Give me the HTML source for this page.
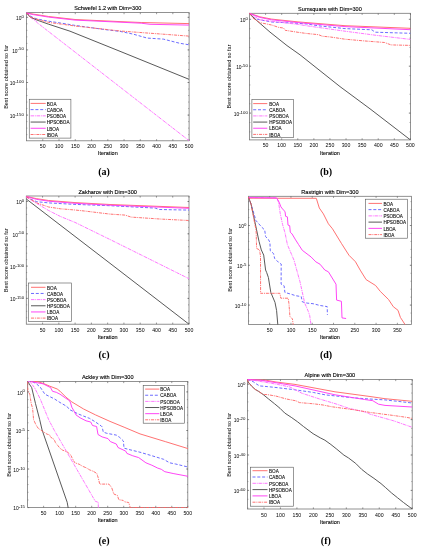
<!DOCTYPE html><html><head><meta charset="utf-8"><title>Convergence curves</title><style>html,body{margin:0;padding:0;background:#fff;}svg{display:block;filter:blur(0.35px);}</style></head><body>
<svg width="423" height="550" viewBox="0 0 423 550">
<rect width="423" height="550" fill="#fff"/>
<clipPath id="ca"><rect x="26" y="12.1" width="163.6" height="129.2"/></clipPath>
<rect x="26.5" y="12.6" width="162.6" height="128.2" fill="#fff" stroke="#777" stroke-width="0.8"/>
<line x1="42.76" y1="140.8" x2="42.76" y2="139.2" stroke="#555" stroke-width="0.6"/>
<line x1="42.76" y1="12.6" x2="42.76" y2="14.2" stroke="#555" stroke-width="0.6"/>
<text x="42.76" y="148.1" font-size="5.2" text-anchor="middle" fill="#000" font-family='"Liberation Sans", sans-serif' font-weight="normal" >50</text>
<line x1="59.02" y1="140.8" x2="59.02" y2="139.2" stroke="#555" stroke-width="0.6"/>
<line x1="59.02" y1="12.6" x2="59.02" y2="14.2" stroke="#555" stroke-width="0.6"/>
<text x="59.02" y="148.1" font-size="5.2" text-anchor="middle" fill="#000" font-family='"Liberation Sans", sans-serif' font-weight="normal" >100</text>
<line x1="75.28" y1="140.8" x2="75.28" y2="139.2" stroke="#555" stroke-width="0.6"/>
<line x1="75.28" y1="12.6" x2="75.28" y2="14.2" stroke="#555" stroke-width="0.6"/>
<text x="75.28" y="148.1" font-size="5.2" text-anchor="middle" fill="#000" font-family='"Liberation Sans", sans-serif' font-weight="normal" >150</text>
<line x1="91.54" y1="140.8" x2="91.54" y2="139.2" stroke="#555" stroke-width="0.6"/>
<line x1="91.54" y1="12.6" x2="91.54" y2="14.2" stroke="#555" stroke-width="0.6"/>
<text x="91.54" y="148.1" font-size="5.2" text-anchor="middle" fill="#000" font-family='"Liberation Sans", sans-serif' font-weight="normal" >200</text>
<line x1="107.8" y1="140.8" x2="107.8" y2="139.2" stroke="#555" stroke-width="0.6"/>
<line x1="107.8" y1="12.6" x2="107.8" y2="14.2" stroke="#555" stroke-width="0.6"/>
<text x="107.8" y="148.1" font-size="5.2" text-anchor="middle" fill="#000" font-family='"Liberation Sans", sans-serif' font-weight="normal" >250</text>
<line x1="124.06" y1="140.8" x2="124.06" y2="139.2" stroke="#555" stroke-width="0.6"/>
<line x1="124.06" y1="12.6" x2="124.06" y2="14.2" stroke="#555" stroke-width="0.6"/>
<text x="124.06" y="148.1" font-size="5.2" text-anchor="middle" fill="#000" font-family='"Liberation Sans", sans-serif' font-weight="normal" >300</text>
<line x1="140.32" y1="140.8" x2="140.32" y2="139.2" stroke="#555" stroke-width="0.6"/>
<line x1="140.32" y1="12.6" x2="140.32" y2="14.2" stroke="#555" stroke-width="0.6"/>
<text x="140.32" y="148.1" font-size="5.2" text-anchor="middle" fill="#000" font-family='"Liberation Sans", sans-serif' font-weight="normal" >350</text>
<line x1="156.58" y1="140.8" x2="156.58" y2="139.2" stroke="#555" stroke-width="0.6"/>
<line x1="156.58" y1="12.6" x2="156.58" y2="14.2" stroke="#555" stroke-width="0.6"/>
<text x="156.58" y="148.1" font-size="5.2" text-anchor="middle" fill="#000" font-family='"Liberation Sans", sans-serif' font-weight="normal" >400</text>
<line x1="172.84" y1="140.8" x2="172.84" y2="139.2" stroke="#555" stroke-width="0.6"/>
<line x1="172.84" y1="12.6" x2="172.84" y2="14.2" stroke="#555" stroke-width="0.6"/>
<text x="172.84" y="148.1" font-size="5.2" text-anchor="middle" fill="#000" font-family='"Liberation Sans", sans-serif' font-weight="normal" >450</text>
<line x1="189.1" y1="140.8" x2="189.1" y2="139.2" stroke="#555" stroke-width="0.6"/>
<line x1="189.1" y1="12.6" x2="189.1" y2="14.2" stroke="#555" stroke-width="0.6"/>
<text x="189.1" y="148.1" font-size="5.2" text-anchor="middle" fill="#000" font-family='"Liberation Sans", sans-serif' font-weight="normal" >500</text>
<line x1="26.5" y1="17.3" x2="28.1" y2="17.3" stroke="#555" stroke-width="0.6"/>
<line x1="189.1" y1="17.3" x2="187.5" y2="17.3" stroke="#555" stroke-width="0.6"/>
<text x="23.8" y="20" font-size="4.9" text-anchor="end" fill="#000" font-family='"Liberation Sans", sans-serif'>10<tspan font-size="4.3" dy="-2.2">0</tspan></text>
<line x1="26.5" y1="49.9" x2="28.1" y2="49.9" stroke="#555" stroke-width="0.6"/>
<line x1="189.1" y1="49.9" x2="187.5" y2="49.9" stroke="#555" stroke-width="0.6"/>
<text x="23.8" y="52.6" font-size="4.9" text-anchor="end" fill="#000" font-family='"Liberation Sans", sans-serif'>10<tspan font-size="4.3" dy="-2.2">-50</tspan></text>
<line x1="26.5" y1="82.5" x2="28.1" y2="82.5" stroke="#555" stroke-width="0.6"/>
<line x1="189.1" y1="82.5" x2="187.5" y2="82.5" stroke="#555" stroke-width="0.6"/>
<text x="23.8" y="85.2" font-size="4.9" text-anchor="end" fill="#000" font-family='"Liberation Sans", sans-serif'>10<tspan font-size="4.3" dy="-2.2">-100</tspan></text>
<line x1="26.5" y1="115.1" x2="28.1" y2="115.1" stroke="#555" stroke-width="0.6"/>
<line x1="189.1" y1="115.1" x2="187.5" y2="115.1" stroke="#555" stroke-width="0.6"/>
<text x="23.8" y="117.8" font-size="4.9" text-anchor="end" fill="#000" font-family='"Liberation Sans", sans-serif'>10<tspan font-size="4.3" dy="-2.2">-150</tspan></text>
<line x1="26.5" y1="17.3" x2="27.4" y2="17.3" stroke="#555" stroke-width="0.5"/>
<line x1="189.1" y1="17.3" x2="188.2" y2="17.3" stroke="#555" stroke-width="0.5"/>
<line x1="26.5" y1="23.82" x2="27.4" y2="23.82" stroke="#555" stroke-width="0.5"/>
<line x1="189.1" y1="23.82" x2="188.2" y2="23.82" stroke="#555" stroke-width="0.5"/>
<line x1="26.5" y1="30.34" x2="27.4" y2="30.34" stroke="#555" stroke-width="0.5"/>
<line x1="189.1" y1="30.34" x2="188.2" y2="30.34" stroke="#555" stroke-width="0.5"/>
<line x1="26.5" y1="36.86" x2="27.4" y2="36.86" stroke="#555" stroke-width="0.5"/>
<line x1="189.1" y1="36.86" x2="188.2" y2="36.86" stroke="#555" stroke-width="0.5"/>
<line x1="26.5" y1="43.38" x2="27.4" y2="43.38" stroke="#555" stroke-width="0.5"/>
<line x1="189.1" y1="43.38" x2="188.2" y2="43.38" stroke="#555" stroke-width="0.5"/>
<line x1="26.5" y1="49.9" x2="27.4" y2="49.9" stroke="#555" stroke-width="0.5"/>
<line x1="189.1" y1="49.9" x2="188.2" y2="49.9" stroke="#555" stroke-width="0.5"/>
<line x1="26.5" y1="56.42" x2="27.4" y2="56.42" stroke="#555" stroke-width="0.5"/>
<line x1="189.1" y1="56.42" x2="188.2" y2="56.42" stroke="#555" stroke-width="0.5"/>
<line x1="26.5" y1="62.94" x2="27.4" y2="62.94" stroke="#555" stroke-width="0.5"/>
<line x1="189.1" y1="62.94" x2="188.2" y2="62.94" stroke="#555" stroke-width="0.5"/>
<line x1="26.5" y1="69.46" x2="27.4" y2="69.46" stroke="#555" stroke-width="0.5"/>
<line x1="189.1" y1="69.46" x2="188.2" y2="69.46" stroke="#555" stroke-width="0.5"/>
<line x1="26.5" y1="75.98" x2="27.4" y2="75.98" stroke="#555" stroke-width="0.5"/>
<line x1="189.1" y1="75.98" x2="188.2" y2="75.98" stroke="#555" stroke-width="0.5"/>
<line x1="26.5" y1="82.5" x2="27.4" y2="82.5" stroke="#555" stroke-width="0.5"/>
<line x1="189.1" y1="82.5" x2="188.2" y2="82.5" stroke="#555" stroke-width="0.5"/>
<line x1="26.5" y1="89.02" x2="27.4" y2="89.02" stroke="#555" stroke-width="0.5"/>
<line x1="189.1" y1="89.02" x2="188.2" y2="89.02" stroke="#555" stroke-width="0.5"/>
<line x1="26.5" y1="95.54" x2="27.4" y2="95.54" stroke="#555" stroke-width="0.5"/>
<line x1="189.1" y1="95.54" x2="188.2" y2="95.54" stroke="#555" stroke-width="0.5"/>
<line x1="26.5" y1="102.06" x2="27.4" y2="102.06" stroke="#555" stroke-width="0.5"/>
<line x1="189.1" y1="102.06" x2="188.2" y2="102.06" stroke="#555" stroke-width="0.5"/>
<line x1="26.5" y1="108.58" x2="27.4" y2="108.58" stroke="#555" stroke-width="0.5"/>
<line x1="189.1" y1="108.58" x2="188.2" y2="108.58" stroke="#555" stroke-width="0.5"/>
<line x1="26.5" y1="115.1" x2="27.4" y2="115.1" stroke="#555" stroke-width="0.5"/>
<line x1="189.1" y1="115.1" x2="188.2" y2="115.1" stroke="#555" stroke-width="0.5"/>
<line x1="26.5" y1="121.62" x2="27.4" y2="121.62" stroke="#555" stroke-width="0.5"/>
<line x1="189.1" y1="121.62" x2="188.2" y2="121.62" stroke="#555" stroke-width="0.5"/>
<line x1="26.5" y1="128.14" x2="27.4" y2="128.14" stroke="#555" stroke-width="0.5"/>
<line x1="189.1" y1="128.14" x2="188.2" y2="128.14" stroke="#555" stroke-width="0.5"/>
<line x1="26.5" y1="134.66" x2="27.4" y2="134.66" stroke="#555" stroke-width="0.5"/>
<line x1="189.1" y1="134.66" x2="188.2" y2="134.66" stroke="#555" stroke-width="0.5"/>
<g clip-path="url(#ca)">
<polyline points="26.5,13 33.3,14.1 48.6,16.5 75,19.5 120,21.6 141.2,22.5 189,23.6" fill="none" stroke="#ff6a6a" stroke-width="0.95" stroke-linejoin="round"/>
<polyline points="26.5,13 32.1,17.1 36.8,18.9 48.6,21.2 60.5,23 75,25.4 105,29.6 120,31.4 133.1,34.1 147.2,38.1 163.3,39.1 179.4,43.2 189,44.8" fill="none" stroke="#6464ff" stroke-width="0.95" stroke-dasharray="3,1.8" stroke-linejoin="round"/>
<polyline points="26.5,13 30.9,17.7 36.2,21.2 36.8,22.4 189,140.6" fill="none" stroke="#ff70ff" stroke-width="0.95" stroke-dasharray="3.4,0.8,1,0.8" stroke-linejoin="round"/>
<polyline points="26.5,13 30.3,17.1 36.8,20 48.6,24.2 70,31.2 120,51.3 189,79.3" fill="none" stroke="#505050" stroke-width="0.95" stroke-linejoin="round"/>
<polyline points="26.5,13 33.3,14.6 48.6,17.1 75,20.1 120,22.2 141.2,23.2 150,24.3 189,25.1" fill="none" stroke="#ff3cf5" stroke-width="0.95" stroke-linejoin="round"/>
<polyline points="26.5,13 30.3,17.1 35.6,18.9 48.6,22.4 75,26 105,29.3 120,31 189,36.1" fill="none" stroke="#ff6262" stroke-width="0.9" stroke-dasharray="3,0.9,1,0.9" stroke-linejoin="round"/>
</g>
<text x="107.8" y="10.3" font-size="5.55" text-anchor="middle" fill="#000" font-family='"Liberation Sans", sans-serif' font-weight="normal" stroke="#000" stroke-width="0.12">Schwefel 1.2 with Dim=300</text>
<text x="107.8" y="155.3" font-size="5.5" text-anchor="middle" fill="#000" font-family='"Liberation Sans", sans-serif' font-weight="normal" stroke="#000" stroke-width="0.08">Iteration</text>
<text transform="translate(7.7,76.9) rotate(-90)" font-size="5.5" text-anchor="middle" fill="#000" font-family='"Liberation Sans", sans-serif'>Best score obtained so far</text>
<rect x="29.25" y="99.25" width="41.65" height="38.85" fill="#fff" stroke="#555" stroke-width="0.6"/>
<polyline points="30.6,103.4 45.7,103.4" fill="none" stroke="#ff6a6a" stroke-width="0.95" stroke-linejoin="round"/>
<text x="46.75" y="105.65" font-size="4.6" text-anchor="start" fill="#000" font-family='"Liberation Sans", sans-serif' font-weight="normal" stroke="#000" stroke-width="0.08">BOA</text>
<polyline points="30.6,109.62 45.7,109.62" fill="none" stroke="#6464ff" stroke-width="0.95" stroke-dasharray="3,1.8" stroke-linejoin="round"/>
<text x="46.75" y="111.87" font-size="4.6" text-anchor="start" fill="#000" font-family='"Liberation Sans", sans-serif' font-weight="normal" stroke="#000" stroke-width="0.08">CABOA</text>
<polyline points="30.6,115.84 45.7,115.84" fill="none" stroke="#ff70ff" stroke-width="0.95" stroke-dasharray="3.4,0.8,1,0.8" stroke-linejoin="round"/>
<text x="46.75" y="118.09" font-size="4.6" text-anchor="start" fill="#000" font-family='"Liberation Sans", sans-serif' font-weight="normal" stroke="#000" stroke-width="0.08">PSOBOA</text>
<polyline points="30.6,122.06 45.7,122.06" fill="none" stroke="#505050" stroke-width="0.95" stroke-linejoin="round"/>
<text x="46.75" y="124.31" font-size="4.6" text-anchor="start" fill="#000" font-family='"Liberation Sans", sans-serif' font-weight="normal" stroke="#000" stroke-width="0.08">HPSOBOA</text>
<polyline points="30.6,128.28 45.7,128.28" fill="none" stroke="#ff3cf5" stroke-width="0.95" stroke-linejoin="round"/>
<text x="46.75" y="130.53" font-size="4.6" text-anchor="start" fill="#000" font-family='"Liberation Sans", sans-serif' font-weight="normal" stroke="#000" stroke-width="0.08">LBOA</text>
<polyline points="30.6,134.5 45.7,134.5" fill="none" stroke="#ff6262" stroke-width="0.9" stroke-dasharray="3,0.9,1,0.9" stroke-linejoin="round"/>
<text x="46.75" y="136.75" font-size="4.6" text-anchor="start" fill="#000" font-family='"Liberation Sans", sans-serif' font-weight="normal" stroke="#000" stroke-width="0.08">IBOA</text>
<text x="104" y="174.7" font-size="10" text-anchor="middle" fill="#000" font-family='"Liberation Serif", serif' font-weight="bold" >(a)</text>
<clipPath id="cb"><rect x="249" y="12.8" width="161.9" height="127.6"/></clipPath>
<rect x="249.5" y="13.3" width="160.9" height="126.6" fill="#fff" stroke="#777" stroke-width="0.8"/>
<line x1="265.59" y1="139.9" x2="265.59" y2="138.3" stroke="#555" stroke-width="0.6"/>
<line x1="265.59" y1="13.3" x2="265.59" y2="14.9" stroke="#555" stroke-width="0.6"/>
<text x="265.59" y="147.4" font-size="5.2" text-anchor="middle" fill="#000" font-family='"Liberation Sans", sans-serif' font-weight="normal" >50</text>
<line x1="281.68" y1="139.9" x2="281.68" y2="138.3" stroke="#555" stroke-width="0.6"/>
<line x1="281.68" y1="13.3" x2="281.68" y2="14.9" stroke="#555" stroke-width="0.6"/>
<text x="281.68" y="147.4" font-size="5.2" text-anchor="middle" fill="#000" font-family='"Liberation Sans", sans-serif' font-weight="normal" >100</text>
<line x1="297.77" y1="139.9" x2="297.77" y2="138.3" stroke="#555" stroke-width="0.6"/>
<line x1="297.77" y1="13.3" x2="297.77" y2="14.9" stroke="#555" stroke-width="0.6"/>
<text x="297.77" y="147.4" font-size="5.2" text-anchor="middle" fill="#000" font-family='"Liberation Sans", sans-serif' font-weight="normal" >150</text>
<line x1="313.86" y1="139.9" x2="313.86" y2="138.3" stroke="#555" stroke-width="0.6"/>
<line x1="313.86" y1="13.3" x2="313.86" y2="14.9" stroke="#555" stroke-width="0.6"/>
<text x="313.86" y="147.4" font-size="5.2" text-anchor="middle" fill="#000" font-family='"Liberation Sans", sans-serif' font-weight="normal" >200</text>
<line x1="329.95" y1="139.9" x2="329.95" y2="138.3" stroke="#555" stroke-width="0.6"/>
<line x1="329.95" y1="13.3" x2="329.95" y2="14.9" stroke="#555" stroke-width="0.6"/>
<text x="329.95" y="147.4" font-size="5.2" text-anchor="middle" fill="#000" font-family='"Liberation Sans", sans-serif' font-weight="normal" >250</text>
<line x1="346.04" y1="139.9" x2="346.04" y2="138.3" stroke="#555" stroke-width="0.6"/>
<line x1="346.04" y1="13.3" x2="346.04" y2="14.9" stroke="#555" stroke-width="0.6"/>
<text x="346.04" y="147.4" font-size="5.2" text-anchor="middle" fill="#000" font-family='"Liberation Sans", sans-serif' font-weight="normal" >300</text>
<line x1="362.13" y1="139.9" x2="362.13" y2="138.3" stroke="#555" stroke-width="0.6"/>
<line x1="362.13" y1="13.3" x2="362.13" y2="14.9" stroke="#555" stroke-width="0.6"/>
<text x="362.13" y="147.4" font-size="5.2" text-anchor="middle" fill="#000" font-family='"Liberation Sans", sans-serif' font-weight="normal" >350</text>
<line x1="378.22" y1="139.9" x2="378.22" y2="138.3" stroke="#555" stroke-width="0.6"/>
<line x1="378.22" y1="13.3" x2="378.22" y2="14.9" stroke="#555" stroke-width="0.6"/>
<text x="378.22" y="147.4" font-size="5.2" text-anchor="middle" fill="#000" font-family='"Liberation Sans", sans-serif' font-weight="normal" >400</text>
<line x1="394.31" y1="139.9" x2="394.31" y2="138.3" stroke="#555" stroke-width="0.6"/>
<line x1="394.31" y1="13.3" x2="394.31" y2="14.9" stroke="#555" stroke-width="0.6"/>
<text x="394.31" y="147.4" font-size="5.2" text-anchor="middle" fill="#000" font-family='"Liberation Sans", sans-serif' font-weight="normal" >450</text>
<line x1="410.4" y1="139.9" x2="410.4" y2="138.3" stroke="#555" stroke-width="0.6"/>
<line x1="410.4" y1="13.3" x2="410.4" y2="14.9" stroke="#555" stroke-width="0.6"/>
<text x="410.4" y="147.4" font-size="5.2" text-anchor="middle" fill="#000" font-family='"Liberation Sans", sans-serif' font-weight="normal" >500</text>
<line x1="249.5" y1="19.3" x2="251.1" y2="19.3" stroke="#555" stroke-width="0.6"/>
<line x1="410.4" y1="19.3" x2="408.8" y2="19.3" stroke="#555" stroke-width="0.6"/>
<text x="247.8" y="22" font-size="4.9" text-anchor="end" fill="#000" font-family='"Liberation Sans", sans-serif'>10<tspan font-size="4.3" dy="-2.2">0</tspan></text>
<line x1="249.5" y1="66.2" x2="251.1" y2="66.2" stroke="#555" stroke-width="0.6"/>
<line x1="410.4" y1="66.2" x2="408.8" y2="66.2" stroke="#555" stroke-width="0.6"/>
<text x="247.8" y="68.9" font-size="4.9" text-anchor="end" fill="#000" font-family='"Liberation Sans", sans-serif'>10<tspan font-size="4.3" dy="-2.2">-50</tspan></text>
<line x1="249.5" y1="113.1" x2="251.1" y2="113.1" stroke="#555" stroke-width="0.6"/>
<line x1="410.4" y1="113.1" x2="408.8" y2="113.1" stroke="#555" stroke-width="0.6"/>
<text x="247.8" y="115.8" font-size="4.9" text-anchor="end" fill="#000" font-family='"Liberation Sans", sans-serif'>10<tspan font-size="4.3" dy="-2.2">-100</tspan></text>
<line x1="249.5" y1="19.3" x2="250.4" y2="19.3" stroke="#555" stroke-width="0.5"/>
<line x1="410.4" y1="19.3" x2="409.5" y2="19.3" stroke="#555" stroke-width="0.5"/>
<line x1="249.5" y1="28.68" x2="250.4" y2="28.68" stroke="#555" stroke-width="0.5"/>
<line x1="410.4" y1="28.68" x2="409.5" y2="28.68" stroke="#555" stroke-width="0.5"/>
<line x1="249.5" y1="38.06" x2="250.4" y2="38.06" stroke="#555" stroke-width="0.5"/>
<line x1="410.4" y1="38.06" x2="409.5" y2="38.06" stroke="#555" stroke-width="0.5"/>
<line x1="249.5" y1="47.44" x2="250.4" y2="47.44" stroke="#555" stroke-width="0.5"/>
<line x1="410.4" y1="47.44" x2="409.5" y2="47.44" stroke="#555" stroke-width="0.5"/>
<line x1="249.5" y1="56.82" x2="250.4" y2="56.82" stroke="#555" stroke-width="0.5"/>
<line x1="410.4" y1="56.82" x2="409.5" y2="56.82" stroke="#555" stroke-width="0.5"/>
<line x1="249.5" y1="66.2" x2="250.4" y2="66.2" stroke="#555" stroke-width="0.5"/>
<line x1="410.4" y1="66.2" x2="409.5" y2="66.2" stroke="#555" stroke-width="0.5"/>
<line x1="249.5" y1="75.58" x2="250.4" y2="75.58" stroke="#555" stroke-width="0.5"/>
<line x1="410.4" y1="75.58" x2="409.5" y2="75.58" stroke="#555" stroke-width="0.5"/>
<line x1="249.5" y1="84.96" x2="250.4" y2="84.96" stroke="#555" stroke-width="0.5"/>
<line x1="410.4" y1="84.96" x2="409.5" y2="84.96" stroke="#555" stroke-width="0.5"/>
<line x1="249.5" y1="94.34" x2="250.4" y2="94.34" stroke="#555" stroke-width="0.5"/>
<line x1="410.4" y1="94.34" x2="409.5" y2="94.34" stroke="#555" stroke-width="0.5"/>
<line x1="249.5" y1="103.72" x2="250.4" y2="103.72" stroke="#555" stroke-width="0.5"/>
<line x1="410.4" y1="103.72" x2="409.5" y2="103.72" stroke="#555" stroke-width="0.5"/>
<line x1="249.5" y1="113.1" x2="250.4" y2="113.1" stroke="#555" stroke-width="0.5"/>
<line x1="410.4" y1="113.1" x2="409.5" y2="113.1" stroke="#555" stroke-width="0.5"/>
<line x1="249.5" y1="122.48" x2="250.4" y2="122.48" stroke="#555" stroke-width="0.5"/>
<line x1="410.4" y1="122.48" x2="409.5" y2="122.48" stroke="#555" stroke-width="0.5"/>
<line x1="249.5" y1="131.86" x2="250.4" y2="131.86" stroke="#555" stroke-width="0.5"/>
<line x1="410.4" y1="131.86" x2="409.5" y2="131.86" stroke="#555" stroke-width="0.5"/>
<g clip-path="url(#cb)">
<polyline points="249.5,13.3 259.8,16.8 271.6,19.1 298,21.9 345,25.7 410.4,28.3" fill="none" stroke="#ff6a6a" stroke-width="0.95" stroke-linejoin="round"/>
<polyline points="249.5,13.3 253.9,17.9 257.5,19.3 265.7,20.9 271.6,22 298,23.3 306.8,24 318.6,25.8 345,28.6 371.9,29.8 375.1,32.2 410.4,33.3" fill="none" stroke="#6464ff" stroke-width="0.95" stroke-dasharray="3,1.8" stroke-linejoin="round"/>
<polyline points="249.5,13.3 260,19.8 298,24.4 306.8,25.8 345,31.2 376.7,35.4 410.4,39.4" fill="none" stroke="#ff70ff" stroke-width="0.95" stroke-dasharray="3.4,0.8,1,0.8" stroke-linejoin="round"/>
<polyline points="249.5,13.3 255.1,19.1 270,32.1 287,45.6 300,54.8 340,86.6 370,108.8 410.4,139.9" fill="none" stroke="#505050" stroke-width="0.95" stroke-linejoin="round"/>
<polyline points="249.5,13.3 259.8,17.4 271.6,19.8 298,22.6 345,26.6 410.4,29.7" fill="none" stroke="#ff3cf5" stroke-width="0.95" stroke-linejoin="round"/>
<polyline points="249.5,13.3 252.7,17.9 259.8,22.6 271.6,25 278.7,27.4 283.5,28 285.2,30.3 298,32.3 306.8,33.5 318.6,34.7 322.2,36.2 330.5,37 345,39.2 364,40.9 384.6,42.5 391,44.9 410.4,45.4" fill="none" stroke="#ff6262" stroke-width="0.9" stroke-dasharray="3,0.9,1,0.9" stroke-linejoin="round"/>
</g>
<text x="329.95" y="11.4" font-size="5.55" text-anchor="middle" fill="#000" font-family='"Liberation Sans", sans-serif' font-weight="normal" stroke="#000" stroke-width="0.12">Sumsquare with Dim=300</text>
<text x="329.95" y="154.7" font-size="5.5" text-anchor="middle" fill="#000" font-family='"Liberation Sans", sans-serif' font-weight="normal" stroke="#000" stroke-width="0.08">Iteration</text>
<text transform="translate(231.3,76.45) rotate(-90)" font-size="5.5" text-anchor="middle" fill="#000" font-family='"Liberation Sans", sans-serif'>Best score obtained so far</text>
<rect x="251.9" y="99.6" width="41.4" height="38.1" fill="#fff" stroke="#555" stroke-width="0.6"/>
<polyline points="253.2,103.6 267.3,103.6" fill="none" stroke="#ff6a6a" stroke-width="0.95" stroke-linejoin="round"/>
<text x="269.3" y="105.85" font-size="4.6" text-anchor="start" fill="#000" font-family='"Liberation Sans", sans-serif' font-weight="normal" stroke="#000" stroke-width="0.08">BOA</text>
<polyline points="253.2,109.76 267.3,109.76" fill="none" stroke="#6464ff" stroke-width="0.95" stroke-dasharray="3,1.8" stroke-linejoin="round"/>
<text x="269.3" y="112.01" font-size="4.6" text-anchor="start" fill="#000" font-family='"Liberation Sans", sans-serif' font-weight="normal" stroke="#000" stroke-width="0.08">CABOA</text>
<polyline points="253.2,115.92 267.3,115.92" fill="none" stroke="#ff70ff" stroke-width="0.95" stroke-dasharray="3.4,0.8,1,0.8" stroke-linejoin="round"/>
<text x="269.3" y="118.17" font-size="4.6" text-anchor="start" fill="#000" font-family='"Liberation Sans", sans-serif' font-weight="normal" stroke="#000" stroke-width="0.08">PSOBOA</text>
<polyline points="253.2,122.08 267.3,122.08" fill="none" stroke="#505050" stroke-width="0.95" stroke-linejoin="round"/>
<text x="269.3" y="124.33" font-size="4.6" text-anchor="start" fill="#000" font-family='"Liberation Sans", sans-serif' font-weight="normal" stroke="#000" stroke-width="0.08">HPSOBOA</text>
<polyline points="253.2,128.24 267.3,128.24" fill="none" stroke="#ff3cf5" stroke-width="0.95" stroke-linejoin="round"/>
<text x="269.3" y="130.49" font-size="4.6" text-anchor="start" fill="#000" font-family='"Liberation Sans", sans-serif' font-weight="normal" stroke="#000" stroke-width="0.08">LBOA</text>
<polyline points="253.2,134.4 267.3,134.4" fill="none" stroke="#ff6262" stroke-width="0.9" stroke-dasharray="3,0.9,1,0.9" stroke-linejoin="round"/>
<text x="269.3" y="136.65" font-size="4.6" text-anchor="start" fill="#000" font-family='"Liberation Sans", sans-serif' font-weight="normal" stroke="#000" stroke-width="0.08">IBOA</text>
<text x="326" y="174.6" font-size="10" text-anchor="middle" fill="#000" font-family='"Liberation Serif", serif' font-weight="bold" >(b)</text>
<clipPath id="cc"><rect x="25.8" y="195.5" width="163.7" height="129.2"/></clipPath>
<rect x="26.3" y="196" width="162.7" height="128.2" fill="#fff" stroke="#777" stroke-width="0.8"/>
<line x1="42.57" y1="324.2" x2="42.57" y2="322.6" stroke="#555" stroke-width="0.6"/>
<line x1="42.57" y1="196" x2="42.57" y2="197.6" stroke="#555" stroke-width="0.6"/>
<text x="42.57" y="331.7" font-size="5.2" text-anchor="middle" fill="#000" font-family='"Liberation Sans", sans-serif' font-weight="normal" >50</text>
<line x1="58.84" y1="324.2" x2="58.84" y2="322.6" stroke="#555" stroke-width="0.6"/>
<line x1="58.84" y1="196" x2="58.84" y2="197.6" stroke="#555" stroke-width="0.6"/>
<text x="58.84" y="331.7" font-size="5.2" text-anchor="middle" fill="#000" font-family='"Liberation Sans", sans-serif' font-weight="normal" >100</text>
<line x1="75.11" y1="324.2" x2="75.11" y2="322.6" stroke="#555" stroke-width="0.6"/>
<line x1="75.11" y1="196" x2="75.11" y2="197.6" stroke="#555" stroke-width="0.6"/>
<text x="75.11" y="331.7" font-size="5.2" text-anchor="middle" fill="#000" font-family='"Liberation Sans", sans-serif' font-weight="normal" >150</text>
<line x1="91.38" y1="324.2" x2="91.38" y2="322.6" stroke="#555" stroke-width="0.6"/>
<line x1="91.38" y1="196" x2="91.38" y2="197.6" stroke="#555" stroke-width="0.6"/>
<text x="91.38" y="331.7" font-size="5.2" text-anchor="middle" fill="#000" font-family='"Liberation Sans", sans-serif' font-weight="normal" >200</text>
<line x1="107.65" y1="324.2" x2="107.65" y2="322.6" stroke="#555" stroke-width="0.6"/>
<line x1="107.65" y1="196" x2="107.65" y2="197.6" stroke="#555" stroke-width="0.6"/>
<text x="107.65" y="331.7" font-size="5.2" text-anchor="middle" fill="#000" font-family='"Liberation Sans", sans-serif' font-weight="normal" >250</text>
<line x1="123.92" y1="324.2" x2="123.92" y2="322.6" stroke="#555" stroke-width="0.6"/>
<line x1="123.92" y1="196" x2="123.92" y2="197.6" stroke="#555" stroke-width="0.6"/>
<text x="123.92" y="331.7" font-size="5.2" text-anchor="middle" fill="#000" font-family='"Liberation Sans", sans-serif' font-weight="normal" >300</text>
<line x1="140.19" y1="324.2" x2="140.19" y2="322.6" stroke="#555" stroke-width="0.6"/>
<line x1="140.19" y1="196" x2="140.19" y2="197.6" stroke="#555" stroke-width="0.6"/>
<text x="140.19" y="331.7" font-size="5.2" text-anchor="middle" fill="#000" font-family='"Liberation Sans", sans-serif' font-weight="normal" >350</text>
<line x1="156.46" y1="324.2" x2="156.46" y2="322.6" stroke="#555" stroke-width="0.6"/>
<line x1="156.46" y1="196" x2="156.46" y2="197.6" stroke="#555" stroke-width="0.6"/>
<text x="156.46" y="331.7" font-size="5.2" text-anchor="middle" fill="#000" font-family='"Liberation Sans", sans-serif' font-weight="normal" >400</text>
<line x1="172.73" y1="324.2" x2="172.73" y2="322.6" stroke="#555" stroke-width="0.6"/>
<line x1="172.73" y1="196" x2="172.73" y2="197.6" stroke="#555" stroke-width="0.6"/>
<text x="172.73" y="331.7" font-size="5.2" text-anchor="middle" fill="#000" font-family='"Liberation Sans", sans-serif' font-weight="normal" >450</text>
<line x1="189" y1="324.2" x2="189" y2="322.6" stroke="#555" stroke-width="0.6"/>
<line x1="189" y1="196" x2="189" y2="197.6" stroke="#555" stroke-width="0.6"/>
<text x="189" y="331.7" font-size="5.2" text-anchor="middle" fill="#000" font-family='"Liberation Sans", sans-serif' font-weight="normal" >500</text>
<line x1="26.3" y1="201.5" x2="27.9" y2="201.5" stroke="#555" stroke-width="0.6"/>
<line x1="189" y1="201.5" x2="187.4" y2="201.5" stroke="#555" stroke-width="0.6"/>
<text x="24.1" y="204.2" font-size="4.9" text-anchor="end" fill="#000" font-family='"Liberation Sans", sans-serif'>10<tspan font-size="4.3" dy="-2.2">0</tspan></text>
<line x1="26.3" y1="233.8" x2="27.9" y2="233.8" stroke="#555" stroke-width="0.6"/>
<line x1="189" y1="233.8" x2="187.4" y2="233.8" stroke="#555" stroke-width="0.6"/>
<text x="24.1" y="236.5" font-size="4.9" text-anchor="end" fill="#000" font-family='"Liberation Sans", sans-serif'>10<tspan font-size="4.3" dy="-2.2">-50</tspan></text>
<line x1="26.3" y1="266.1" x2="27.9" y2="266.1" stroke="#555" stroke-width="0.6"/>
<line x1="189" y1="266.1" x2="187.4" y2="266.1" stroke="#555" stroke-width="0.6"/>
<text x="24.1" y="268.8" font-size="4.9" text-anchor="end" fill="#000" font-family='"Liberation Sans", sans-serif'>10<tspan font-size="4.3" dy="-2.2">-100</tspan></text>
<line x1="26.3" y1="298.4" x2="27.9" y2="298.4" stroke="#555" stroke-width="0.6"/>
<line x1="189" y1="298.4" x2="187.4" y2="298.4" stroke="#555" stroke-width="0.6"/>
<text x="24.1" y="301.1" font-size="4.9" text-anchor="end" fill="#000" font-family='"Liberation Sans", sans-serif'>10<tspan font-size="4.3" dy="-2.2">-150</tspan></text>
<line x1="26.3" y1="201.5" x2="27.2" y2="201.5" stroke="#555" stroke-width="0.5"/>
<line x1="189" y1="201.5" x2="188.1" y2="201.5" stroke="#555" stroke-width="0.5"/>
<line x1="26.3" y1="207.96" x2="27.2" y2="207.96" stroke="#555" stroke-width="0.5"/>
<line x1="189" y1="207.96" x2="188.1" y2="207.96" stroke="#555" stroke-width="0.5"/>
<line x1="26.3" y1="214.42" x2="27.2" y2="214.42" stroke="#555" stroke-width="0.5"/>
<line x1="189" y1="214.42" x2="188.1" y2="214.42" stroke="#555" stroke-width="0.5"/>
<line x1="26.3" y1="220.88" x2="27.2" y2="220.88" stroke="#555" stroke-width="0.5"/>
<line x1="189" y1="220.88" x2="188.1" y2="220.88" stroke="#555" stroke-width="0.5"/>
<line x1="26.3" y1="227.34" x2="27.2" y2="227.34" stroke="#555" stroke-width="0.5"/>
<line x1="189" y1="227.34" x2="188.1" y2="227.34" stroke="#555" stroke-width="0.5"/>
<line x1="26.3" y1="233.8" x2="27.2" y2="233.8" stroke="#555" stroke-width="0.5"/>
<line x1="189" y1="233.8" x2="188.1" y2="233.8" stroke="#555" stroke-width="0.5"/>
<line x1="26.3" y1="240.26" x2="27.2" y2="240.26" stroke="#555" stroke-width="0.5"/>
<line x1="189" y1="240.26" x2="188.1" y2="240.26" stroke="#555" stroke-width="0.5"/>
<line x1="26.3" y1="246.72" x2="27.2" y2="246.72" stroke="#555" stroke-width="0.5"/>
<line x1="189" y1="246.72" x2="188.1" y2="246.72" stroke="#555" stroke-width="0.5"/>
<line x1="26.3" y1="253.18" x2="27.2" y2="253.18" stroke="#555" stroke-width="0.5"/>
<line x1="189" y1="253.18" x2="188.1" y2="253.18" stroke="#555" stroke-width="0.5"/>
<line x1="26.3" y1="259.64" x2="27.2" y2="259.64" stroke="#555" stroke-width="0.5"/>
<line x1="189" y1="259.64" x2="188.1" y2="259.64" stroke="#555" stroke-width="0.5"/>
<line x1="26.3" y1="266.1" x2="27.2" y2="266.1" stroke="#555" stroke-width="0.5"/>
<line x1="189" y1="266.1" x2="188.1" y2="266.1" stroke="#555" stroke-width="0.5"/>
<line x1="26.3" y1="272.56" x2="27.2" y2="272.56" stroke="#555" stroke-width="0.5"/>
<line x1="189" y1="272.56" x2="188.1" y2="272.56" stroke="#555" stroke-width="0.5"/>
<line x1="26.3" y1="279.02" x2="27.2" y2="279.02" stroke="#555" stroke-width="0.5"/>
<line x1="189" y1="279.02" x2="188.1" y2="279.02" stroke="#555" stroke-width="0.5"/>
<line x1="26.3" y1="285.48" x2="27.2" y2="285.48" stroke="#555" stroke-width="0.5"/>
<line x1="189" y1="285.48" x2="188.1" y2="285.48" stroke="#555" stroke-width="0.5"/>
<line x1="26.3" y1="291.94" x2="27.2" y2="291.94" stroke="#555" stroke-width="0.5"/>
<line x1="189" y1="291.94" x2="188.1" y2="291.94" stroke="#555" stroke-width="0.5"/>
<line x1="26.3" y1="298.4" x2="27.2" y2="298.4" stroke="#555" stroke-width="0.5"/>
<line x1="189" y1="298.4" x2="188.1" y2="298.4" stroke="#555" stroke-width="0.5"/>
<line x1="26.3" y1="304.86" x2="27.2" y2="304.86" stroke="#555" stroke-width="0.5"/>
<line x1="189" y1="304.86" x2="188.1" y2="304.86" stroke="#555" stroke-width="0.5"/>
<line x1="26.3" y1="311.32" x2="27.2" y2="311.32" stroke="#555" stroke-width="0.5"/>
<line x1="189" y1="311.32" x2="188.1" y2="311.32" stroke="#555" stroke-width="0.5"/>
<line x1="26.3" y1="317.78" x2="27.2" y2="317.78" stroke="#555" stroke-width="0.5"/>
<line x1="189" y1="317.78" x2="188.1" y2="317.78" stroke="#555" stroke-width="0.5"/>
<g clip-path="url(#cc)">
<polyline points="26.3,196.5 36.8,198.7 48.6,200.5 75,202.6 110,204.5 189,207.5" fill="none" stroke="#ff6a6a" stroke-width="0.95" stroke-linejoin="round"/>
<polyline points="26.3,196.8 30.9,199.3 36.8,201.7 48.6,202.9 75,204.4 110,205.7 155.2,208.1 159.3,209.5 189,210.1" fill="none" stroke="#6464ff" stroke-width="0.95" stroke-dasharray="3,1.8" stroke-linejoin="round"/>
<polyline points="26.3,197.2 36.8,203.5 48.6,210.5 60.5,216.5 75,222.4 110,239.5 189,278.7" fill="none" stroke="#ff70ff" stroke-width="0.95" stroke-dasharray="3.4,0.8,1,0.8" stroke-linejoin="round"/>
<polyline points="26.3,199 110,263.3 189,324.2" fill="none" stroke="#505050" stroke-width="0.95" stroke-linejoin="round"/>
<polyline points="26.3,196.5 36.8,199.4 48.6,201.2 75,203.3 110,205.2 189,208.3" fill="none" stroke="#ff3cf5" stroke-width="0.95" stroke-linejoin="round"/>
<polyline points="26.3,196.8 36.8,202.9 48.6,207 60.5,208.8 75,210 85.3,211.1 110,214.1 125.1,215.1 131.1,217.1 161.3,219.1 189,220.5" fill="none" stroke="#ff6262" stroke-width="0.9" stroke-dasharray="3,0.9,1,0.9" stroke-linejoin="round"/>
</g>
<text x="107.65" y="193.8" font-size="5.55" text-anchor="middle" fill="#000" font-family='"Liberation Sans", sans-serif' font-weight="normal" stroke="#000" stroke-width="0.12">Zakharov with Dim=300</text>
<text x="107.65" y="338.8" font-size="5.5" text-anchor="middle" fill="#000" font-family='"Liberation Sans", sans-serif' font-weight="normal" stroke="#000" stroke-width="0.08">Iteration</text>
<text transform="translate(7.6,260.2) rotate(-90)" font-size="5.5" text-anchor="middle" fill="#000" font-family='"Liberation Sans", sans-serif'>Best score obtained so far</text>
<rect x="28.6" y="283" width="42.7" height="38.6" fill="#fff" stroke="#555" stroke-width="0.6"/>
<polyline points="31,287.3 45.5,287.3" fill="none" stroke="#ff6a6a" stroke-width="0.95" stroke-linejoin="round"/>
<text x="47" y="289.55" font-size="4.6" text-anchor="start" fill="#000" font-family='"Liberation Sans", sans-serif' font-weight="normal" stroke="#000" stroke-width="0.08">BOA</text>
<polyline points="31,293.46 45.5,293.46" fill="none" stroke="#6464ff" stroke-width="0.95" stroke-dasharray="3,1.8" stroke-linejoin="round"/>
<text x="47" y="295.71" font-size="4.6" text-anchor="start" fill="#000" font-family='"Liberation Sans", sans-serif' font-weight="normal" stroke="#000" stroke-width="0.08">CABOA</text>
<polyline points="31,299.62 45.5,299.62" fill="none" stroke="#ff70ff" stroke-width="0.95" stroke-dasharray="3.4,0.8,1,0.8" stroke-linejoin="round"/>
<text x="47" y="301.87" font-size="4.6" text-anchor="start" fill="#000" font-family='"Liberation Sans", sans-serif' font-weight="normal" stroke="#000" stroke-width="0.08">PSOBOA</text>
<polyline points="31,305.78 45.5,305.78" fill="none" stroke="#505050" stroke-width="0.95" stroke-linejoin="round"/>
<text x="47" y="308.03" font-size="4.6" text-anchor="start" fill="#000" font-family='"Liberation Sans", sans-serif' font-weight="normal" stroke="#000" stroke-width="0.08">HPSOBOA</text>
<polyline points="31,311.94 45.5,311.94" fill="none" stroke="#ff3cf5" stroke-width="0.95" stroke-linejoin="round"/>
<text x="47" y="314.19" font-size="4.6" text-anchor="start" fill="#000" font-family='"Liberation Sans", sans-serif' font-weight="normal" stroke="#000" stroke-width="0.08">LBOA</text>
<polyline points="31,318.1 45.5,318.1" fill="none" stroke="#ff6262" stroke-width="0.9" stroke-dasharray="3,0.9,1,0.9" stroke-linejoin="round"/>
<text x="47" y="320.35" font-size="4.6" text-anchor="start" fill="#000" font-family='"Liberation Sans", sans-serif' font-weight="normal" stroke="#000" stroke-width="0.08">IBOA</text>
<text x="104.1" y="358.2" font-size="10" text-anchor="middle" fill="#000" font-family='"Liberation Serif", serif' font-weight="bold" >(c)</text>
<clipPath id="cd"><rect x="247.9" y="195.8" width="164" height="129.1"/></clipPath>
<rect x="248.4" y="196.3" width="163" height="128.1" fill="#fff" stroke="#777" stroke-width="0.8"/>
<line x1="269.68" y1="324.4" x2="269.68" y2="322.8" stroke="#555" stroke-width="0.6"/>
<line x1="269.68" y1="196.3" x2="269.68" y2="197.9" stroke="#555" stroke-width="0.6"/>
<text x="269.68" y="331.7" font-size="5.2" text-anchor="middle" fill="#000" font-family='"Liberation Sans", sans-serif' font-weight="normal" >50</text>
<line x1="290.96" y1="324.4" x2="290.96" y2="322.8" stroke="#555" stroke-width="0.6"/>
<line x1="290.96" y1="196.3" x2="290.96" y2="197.9" stroke="#555" stroke-width="0.6"/>
<text x="290.96" y="331.7" font-size="5.2" text-anchor="middle" fill="#000" font-family='"Liberation Sans", sans-serif' font-weight="normal" >100</text>
<line x1="312.24" y1="324.4" x2="312.24" y2="322.8" stroke="#555" stroke-width="0.6"/>
<line x1="312.24" y1="196.3" x2="312.24" y2="197.9" stroke="#555" stroke-width="0.6"/>
<text x="312.24" y="331.7" font-size="5.2" text-anchor="middle" fill="#000" font-family='"Liberation Sans", sans-serif' font-weight="normal" >150</text>
<line x1="333.52" y1="324.4" x2="333.52" y2="322.8" stroke="#555" stroke-width="0.6"/>
<line x1="333.52" y1="196.3" x2="333.52" y2="197.9" stroke="#555" stroke-width="0.6"/>
<text x="333.52" y="331.7" font-size="5.2" text-anchor="middle" fill="#000" font-family='"Liberation Sans", sans-serif' font-weight="normal" >200</text>
<line x1="354.8" y1="324.4" x2="354.8" y2="322.8" stroke="#555" stroke-width="0.6"/>
<line x1="354.8" y1="196.3" x2="354.8" y2="197.9" stroke="#555" stroke-width="0.6"/>
<text x="354.8" y="331.7" font-size="5.2" text-anchor="middle" fill="#000" font-family='"Liberation Sans", sans-serif' font-weight="normal" >250</text>
<line x1="376.08" y1="324.4" x2="376.08" y2="322.8" stroke="#555" stroke-width="0.6"/>
<line x1="376.08" y1="196.3" x2="376.08" y2="197.9" stroke="#555" stroke-width="0.6"/>
<text x="376.08" y="331.7" font-size="5.2" text-anchor="middle" fill="#000" font-family='"Liberation Sans", sans-serif' font-weight="normal" >300</text>
<line x1="397.36" y1="324.4" x2="397.36" y2="322.8" stroke="#555" stroke-width="0.6"/>
<line x1="397.36" y1="196.3" x2="397.36" y2="197.9" stroke="#555" stroke-width="0.6"/>
<text x="397.36" y="331.7" font-size="5.2" text-anchor="middle" fill="#000" font-family='"Liberation Sans", sans-serif' font-weight="normal" >350</text>
<line x1="248.4" y1="225.5" x2="250" y2="225.5" stroke="#555" stroke-width="0.6"/>
<line x1="411.4" y1="225.5" x2="409.8" y2="225.5" stroke="#555" stroke-width="0.6"/>
<text x="246.4" y="228.2" font-size="4.9" text-anchor="end" fill="#000" font-family='"Liberation Sans", sans-serif'>10<tspan font-size="4.3" dy="-2.2">0</tspan></text>
<line x1="248.4" y1="265.3" x2="250" y2="265.3" stroke="#555" stroke-width="0.6"/>
<line x1="411.4" y1="265.3" x2="409.8" y2="265.3" stroke="#555" stroke-width="0.6"/>
<text x="246.4" y="268" font-size="4.9" text-anchor="end" fill="#000" font-family='"Liberation Sans", sans-serif'>10<tspan font-size="4.3" dy="-2.2">-5</tspan></text>
<line x1="248.4" y1="305.1" x2="250" y2="305.1" stroke="#555" stroke-width="0.6"/>
<line x1="411.4" y1="305.1" x2="409.8" y2="305.1" stroke="#555" stroke-width="0.6"/>
<text x="246.4" y="307.8" font-size="4.9" text-anchor="end" fill="#000" font-family='"Liberation Sans", sans-serif'>10<tspan font-size="4.3" dy="-2.2">-10</tspan></text>
<line x1="248.4" y1="201.62" x2="249.3" y2="201.62" stroke="#555" stroke-width="0.5"/>
<line x1="411.4" y1="201.62" x2="410.5" y2="201.62" stroke="#555" stroke-width="0.5"/>
<line x1="248.4" y1="209.58" x2="249.3" y2="209.58" stroke="#555" stroke-width="0.5"/>
<line x1="411.4" y1="209.58" x2="410.5" y2="209.58" stroke="#555" stroke-width="0.5"/>
<line x1="248.4" y1="217.54" x2="249.3" y2="217.54" stroke="#555" stroke-width="0.5"/>
<line x1="411.4" y1="217.54" x2="410.5" y2="217.54" stroke="#555" stroke-width="0.5"/>
<line x1="248.4" y1="225.5" x2="249.3" y2="225.5" stroke="#555" stroke-width="0.5"/>
<line x1="411.4" y1="225.5" x2="410.5" y2="225.5" stroke="#555" stroke-width="0.5"/>
<line x1="248.4" y1="233.46" x2="249.3" y2="233.46" stroke="#555" stroke-width="0.5"/>
<line x1="411.4" y1="233.46" x2="410.5" y2="233.46" stroke="#555" stroke-width="0.5"/>
<line x1="248.4" y1="241.42" x2="249.3" y2="241.42" stroke="#555" stroke-width="0.5"/>
<line x1="411.4" y1="241.42" x2="410.5" y2="241.42" stroke="#555" stroke-width="0.5"/>
<line x1="248.4" y1="249.38" x2="249.3" y2="249.38" stroke="#555" stroke-width="0.5"/>
<line x1="411.4" y1="249.38" x2="410.5" y2="249.38" stroke="#555" stroke-width="0.5"/>
<line x1="248.4" y1="257.34" x2="249.3" y2="257.34" stroke="#555" stroke-width="0.5"/>
<line x1="411.4" y1="257.34" x2="410.5" y2="257.34" stroke="#555" stroke-width="0.5"/>
<line x1="248.4" y1="265.3" x2="249.3" y2="265.3" stroke="#555" stroke-width="0.5"/>
<line x1="411.4" y1="265.3" x2="410.5" y2="265.3" stroke="#555" stroke-width="0.5"/>
<line x1="248.4" y1="273.26" x2="249.3" y2="273.26" stroke="#555" stroke-width="0.5"/>
<line x1="411.4" y1="273.26" x2="410.5" y2="273.26" stroke="#555" stroke-width="0.5"/>
<line x1="248.4" y1="281.22" x2="249.3" y2="281.22" stroke="#555" stroke-width="0.5"/>
<line x1="411.4" y1="281.22" x2="410.5" y2="281.22" stroke="#555" stroke-width="0.5"/>
<line x1="248.4" y1="289.18" x2="249.3" y2="289.18" stroke="#555" stroke-width="0.5"/>
<line x1="411.4" y1="289.18" x2="410.5" y2="289.18" stroke="#555" stroke-width="0.5"/>
<line x1="248.4" y1="297.14" x2="249.3" y2="297.14" stroke="#555" stroke-width="0.5"/>
<line x1="411.4" y1="297.14" x2="410.5" y2="297.14" stroke="#555" stroke-width="0.5"/>
<line x1="248.4" y1="305.1" x2="249.3" y2="305.1" stroke="#555" stroke-width="0.5"/>
<line x1="411.4" y1="305.1" x2="410.5" y2="305.1" stroke="#555" stroke-width="0.5"/>
<line x1="248.4" y1="313.06" x2="249.3" y2="313.06" stroke="#555" stroke-width="0.5"/>
<line x1="411.4" y1="313.06" x2="410.5" y2="313.06" stroke="#555" stroke-width="0.5"/>
<line x1="248.4" y1="321.02" x2="249.3" y2="321.02" stroke="#555" stroke-width="0.5"/>
<line x1="411.4" y1="321.02" x2="410.5" y2="321.02" stroke="#555" stroke-width="0.5"/>
<g clip-path="url(#cd)">
<polyline points="248.4,198.2 316.3,198.3 319.3,208 323.4,213.9 328.4,223.8 332.5,228.8 341.6,243.7 349,255.3 355.5,261.8 360.2,270.1 366.1,279.6 375.6,285.5 380.3,291.4 388.6,299.6 393.3,306.7 398,310.3 400.4,317.4 405.1,324.6" fill="none" stroke="#ff6a6a" stroke-width="0.95" stroke-linejoin="round"/>
<polyline points="248.4,197 249.3,199 253.5,212.2 255.9,220.5 261.7,227.1 264.7,230 265.6,236.6 268.4,239.5 269.9,242.3 270.3,250.8 273.6,253.6 274.6,258.4 278.4,262.2 281.2,264 281.1,284.1 284.1,285.8 284.9,292.4 290.7,294.1 295.7,295.7 301.2,296.6 302.4,301.9 307.1,303.1 313,303.7 320.1,305.5 327.2,306.6 327.4,314.9" fill="none" stroke="#6464ff" stroke-width="0.95" stroke-dasharray="3,1.8" stroke-linejoin="round"/>
<polyline points="248.4,197.3 276.7,197.8 278.5,202.1 280.3,213.9 282.6,224.6 285,232.8 287.4,244.6 294,260.2 300,281.8 304.7,303.1 308.3,311.4 309.7,315.6 311,324.6" fill="none" stroke="#ff70ff" stroke-width="0.95" stroke-dasharray="3.4,0.8,1,0.8" stroke-linejoin="round"/>
<polyline points="248.4,197 251,203.9 253.5,215.5 256.6,230 259,241.3 261.3,249.9 263.7,255.1 265.6,270 266.7,272.6 268.4,277.5 270.8,292.4 275,302.4 276.6,310.6 277.8,324.6" fill="none" stroke="#505050" stroke-width="0.95" stroke-linejoin="round"/>
<polyline points="248.4,197.6 276.7,198 279.1,202.1 280.9,206.8 283.2,209.8 285,211.5 285.6,216.3 287.4,216.9 288,225.1 289.7,225.7 290.3,232.2 292.1,234 295.6,239.9 298.6,244.6 302.3,250.3 308.9,255.3 311,256.9 315.9,261.9 320,264.2 324.8,270 328.4,271.8 336,284.2 336.6,300.1 341.4,301.3 342,317.9 346.1,318.5" fill="none" stroke="#ff3cf5" stroke-width="0.95" stroke-linejoin="round"/>
<polyline points="248.4,197 251,203.9 255.1,225.5 256.1,230 256.6,248.4 259.5,249.9 260.5,256 260.6,293.3 279.9,293.3 280.8,298.2 288.2,298.2 289,304 289.9,316.4 292.4,318.9 293.2,324.6" fill="none" stroke="#ff6262" stroke-width="0.9" stroke-dasharray="3,0.9,1,0.9" stroke-linejoin="round"/>
</g>
<text x="329.9" y="193.8" font-size="5.55" text-anchor="middle" fill="#000" font-family='"Liberation Sans", sans-serif' font-weight="normal" stroke="#000" stroke-width="0.12">Rastrigin with Dim=300</text>
<text x="329.9" y="339" font-size="5.5" text-anchor="middle" fill="#000" font-family='"Liberation Sans", sans-serif' font-weight="normal" stroke="#000" stroke-width="0.08">Iteration</text>
<text transform="translate(231.7,259.9) rotate(-90)" font-size="5.5" text-anchor="middle" fill="#000" font-family='"Liberation Sans", sans-serif'>Best score obtained so far</text>
<rect x="365.6" y="199.2" width="41.9" height="39" fill="#fff" stroke="#555" stroke-width="0.6"/>
<polyline points="368.5,203.4 382,203.4" fill="none" stroke="#ff6a6a" stroke-width="0.95" stroke-linejoin="round"/>
<text x="383.4" y="205.65" font-size="4.6" text-anchor="start" fill="#000" font-family='"Liberation Sans", sans-serif' font-weight="normal" stroke="#000" stroke-width="0.08">BOA</text>
<polyline points="368.5,209.64 382,209.64" fill="none" stroke="#6464ff" stroke-width="0.95" stroke-dasharray="3,1.8" stroke-linejoin="round"/>
<text x="383.4" y="211.89" font-size="4.6" text-anchor="start" fill="#000" font-family='"Liberation Sans", sans-serif' font-weight="normal" stroke="#000" stroke-width="0.08">CABOA</text>
<polyline points="368.5,215.88 382,215.88" fill="none" stroke="#ff70ff" stroke-width="0.95" stroke-dasharray="3.4,0.8,1,0.8" stroke-linejoin="round"/>
<text x="383.4" y="218.13" font-size="4.6" text-anchor="start" fill="#000" font-family='"Liberation Sans", sans-serif' font-weight="normal" stroke="#000" stroke-width="0.08">PSOBOA</text>
<polyline points="368.5,222.12 382,222.12" fill="none" stroke="#505050" stroke-width="0.95" stroke-linejoin="round"/>
<text x="383.4" y="224.37" font-size="4.6" text-anchor="start" fill="#000" font-family='"Liberation Sans", sans-serif' font-weight="normal" stroke="#000" stroke-width="0.08">HPSOBOA</text>
<polyline points="368.5,228.36 382,228.36" fill="none" stroke="#ff3cf5" stroke-width="0.95" stroke-linejoin="round"/>
<text x="383.4" y="230.61" font-size="4.6" text-anchor="start" fill="#000" font-family='"Liberation Sans", sans-serif' font-weight="normal" stroke="#000" stroke-width="0.08">LBOA</text>
<polyline points="368.5,234.6 382,234.6" fill="none" stroke="#ff6262" stroke-width="0.9" stroke-dasharray="3,0.9,1,0.9" stroke-linejoin="round"/>
<text x="383.4" y="236.85" font-size="4.6" text-anchor="start" fill="#000" font-family='"Liberation Sans", sans-serif' font-weight="normal" stroke="#000" stroke-width="0.08">IBOA</text>
<text x="326" y="357.9" font-size="10" text-anchor="middle" fill="#000" font-family='"Liberation Serif", serif' font-weight="bold" >(d)</text>
<clipPath id="ce"><rect x="27.1" y="381" width="161.2" height="126.9"/></clipPath>
<rect x="27.6" y="381.5" width="160.2" height="125.9" fill="#fff" stroke="#777" stroke-width="0.8"/>
<line x1="43.62" y1="507.4" x2="43.62" y2="505.8" stroke="#555" stroke-width="0.6"/>
<line x1="43.62" y1="381.5" x2="43.62" y2="383.1" stroke="#555" stroke-width="0.6"/>
<text x="43.62" y="515.1" font-size="5.2" text-anchor="middle" fill="#000" font-family='"Liberation Sans", sans-serif' font-weight="normal" >50</text>
<line x1="59.64" y1="507.4" x2="59.64" y2="505.8" stroke="#555" stroke-width="0.6"/>
<line x1="59.64" y1="381.5" x2="59.64" y2="383.1" stroke="#555" stroke-width="0.6"/>
<text x="59.64" y="515.1" font-size="5.2" text-anchor="middle" fill="#000" font-family='"Liberation Sans", sans-serif' font-weight="normal" >100</text>
<line x1="75.66" y1="507.4" x2="75.66" y2="505.8" stroke="#555" stroke-width="0.6"/>
<line x1="75.66" y1="381.5" x2="75.66" y2="383.1" stroke="#555" stroke-width="0.6"/>
<text x="75.66" y="515.1" font-size="5.2" text-anchor="middle" fill="#000" font-family='"Liberation Sans", sans-serif' font-weight="normal" >150</text>
<line x1="91.68" y1="507.4" x2="91.68" y2="505.8" stroke="#555" stroke-width="0.6"/>
<line x1="91.68" y1="381.5" x2="91.68" y2="383.1" stroke="#555" stroke-width="0.6"/>
<text x="91.68" y="515.1" font-size="5.2" text-anchor="middle" fill="#000" font-family='"Liberation Sans", sans-serif' font-weight="normal" >200</text>
<line x1="107.7" y1="507.4" x2="107.7" y2="505.8" stroke="#555" stroke-width="0.6"/>
<line x1="107.7" y1="381.5" x2="107.7" y2="383.1" stroke="#555" stroke-width="0.6"/>
<text x="107.7" y="515.1" font-size="5.2" text-anchor="middle" fill="#000" font-family='"Liberation Sans", sans-serif' font-weight="normal" >250</text>
<line x1="123.72" y1="507.4" x2="123.72" y2="505.8" stroke="#555" stroke-width="0.6"/>
<line x1="123.72" y1="381.5" x2="123.72" y2="383.1" stroke="#555" stroke-width="0.6"/>
<text x="123.72" y="515.1" font-size="5.2" text-anchor="middle" fill="#000" font-family='"Liberation Sans", sans-serif' font-weight="normal" >300</text>
<line x1="139.74" y1="507.4" x2="139.74" y2="505.8" stroke="#555" stroke-width="0.6"/>
<line x1="139.74" y1="381.5" x2="139.74" y2="383.1" stroke="#555" stroke-width="0.6"/>
<text x="139.74" y="515.1" font-size="5.2" text-anchor="middle" fill="#000" font-family='"Liberation Sans", sans-serif' font-weight="normal" >350</text>
<line x1="155.76" y1="507.4" x2="155.76" y2="505.8" stroke="#555" stroke-width="0.6"/>
<line x1="155.76" y1="381.5" x2="155.76" y2="383.1" stroke="#555" stroke-width="0.6"/>
<text x="155.76" y="515.1" font-size="5.2" text-anchor="middle" fill="#000" font-family='"Liberation Sans", sans-serif' font-weight="normal" >400</text>
<line x1="171.78" y1="507.4" x2="171.78" y2="505.8" stroke="#555" stroke-width="0.6"/>
<line x1="171.78" y1="381.5" x2="171.78" y2="383.1" stroke="#555" stroke-width="0.6"/>
<text x="171.78" y="515.1" font-size="5.2" text-anchor="middle" fill="#000" font-family='"Liberation Sans", sans-serif' font-weight="normal" >450</text>
<line x1="187.8" y1="507.4" x2="187.8" y2="505.8" stroke="#555" stroke-width="0.6"/>
<line x1="187.8" y1="381.5" x2="187.8" y2="383.1" stroke="#555" stroke-width="0.6"/>
<text x="187.8" y="515.1" font-size="5.2" text-anchor="middle" fill="#000" font-family='"Liberation Sans", sans-serif' font-weight="normal" >500</text>
<line x1="27.6" y1="391.9" x2="29.2" y2="391.9" stroke="#555" stroke-width="0.6"/>
<line x1="187.8" y1="391.9" x2="186.2" y2="391.9" stroke="#555" stroke-width="0.6"/>
<text x="25" y="394.6" font-size="4.9" text-anchor="end" fill="#000" font-family='"Liberation Sans", sans-serif'>10<tspan font-size="4.3" dy="-2.2">0</tspan></text>
<line x1="27.6" y1="430.5" x2="29.2" y2="430.5" stroke="#555" stroke-width="0.6"/>
<line x1="187.8" y1="430.5" x2="186.2" y2="430.5" stroke="#555" stroke-width="0.6"/>
<text x="25" y="433.2" font-size="4.9" text-anchor="end" fill="#000" font-family='"Liberation Sans", sans-serif'>10<tspan font-size="4.3" dy="-2.2">-5</tspan></text>
<line x1="27.6" y1="469" x2="29.2" y2="469" stroke="#555" stroke-width="0.6"/>
<line x1="187.8" y1="469" x2="186.2" y2="469" stroke="#555" stroke-width="0.6"/>
<text x="25" y="471.7" font-size="4.9" text-anchor="end" fill="#000" font-family='"Liberation Sans", sans-serif'>10<tspan font-size="4.3" dy="-2.2">-10</tspan></text>
<line x1="27.6" y1="507.6" x2="29.2" y2="507.6" stroke="#555" stroke-width="0.6"/>
<line x1="187.8" y1="507.6" x2="186.2" y2="507.6" stroke="#555" stroke-width="0.6"/>
<text x="25" y="510.3" font-size="4.9" text-anchor="end" fill="#000" font-family='"Liberation Sans", sans-serif'>10<tspan font-size="4.3" dy="-2.2">-15</tspan></text>
<line x1="27.6" y1="384.18" x2="28.5" y2="384.18" stroke="#555" stroke-width="0.5"/>
<line x1="187.8" y1="384.18" x2="186.9" y2="384.18" stroke="#555" stroke-width="0.5"/>
<line x1="27.6" y1="391.9" x2="28.5" y2="391.9" stroke="#555" stroke-width="0.5"/>
<line x1="187.8" y1="391.9" x2="186.9" y2="391.9" stroke="#555" stroke-width="0.5"/>
<line x1="27.6" y1="399.62" x2="28.5" y2="399.62" stroke="#555" stroke-width="0.5"/>
<line x1="187.8" y1="399.62" x2="186.9" y2="399.62" stroke="#555" stroke-width="0.5"/>
<line x1="27.6" y1="407.34" x2="28.5" y2="407.34" stroke="#555" stroke-width="0.5"/>
<line x1="187.8" y1="407.34" x2="186.9" y2="407.34" stroke="#555" stroke-width="0.5"/>
<line x1="27.6" y1="415.06" x2="28.5" y2="415.06" stroke="#555" stroke-width="0.5"/>
<line x1="187.8" y1="415.06" x2="186.9" y2="415.06" stroke="#555" stroke-width="0.5"/>
<line x1="27.6" y1="422.78" x2="28.5" y2="422.78" stroke="#555" stroke-width="0.5"/>
<line x1="187.8" y1="422.78" x2="186.9" y2="422.78" stroke="#555" stroke-width="0.5"/>
<line x1="27.6" y1="430.5" x2="28.5" y2="430.5" stroke="#555" stroke-width="0.5"/>
<line x1="187.8" y1="430.5" x2="186.9" y2="430.5" stroke="#555" stroke-width="0.5"/>
<line x1="27.6" y1="438.22" x2="28.5" y2="438.22" stroke="#555" stroke-width="0.5"/>
<line x1="187.8" y1="438.22" x2="186.9" y2="438.22" stroke="#555" stroke-width="0.5"/>
<line x1="27.6" y1="445.94" x2="28.5" y2="445.94" stroke="#555" stroke-width="0.5"/>
<line x1="187.8" y1="445.94" x2="186.9" y2="445.94" stroke="#555" stroke-width="0.5"/>
<line x1="27.6" y1="453.66" x2="28.5" y2="453.66" stroke="#555" stroke-width="0.5"/>
<line x1="187.8" y1="453.66" x2="186.9" y2="453.66" stroke="#555" stroke-width="0.5"/>
<line x1="27.6" y1="461.38" x2="28.5" y2="461.38" stroke="#555" stroke-width="0.5"/>
<line x1="187.8" y1="461.38" x2="186.9" y2="461.38" stroke="#555" stroke-width="0.5"/>
<line x1="27.6" y1="469.1" x2="28.5" y2="469.1" stroke="#555" stroke-width="0.5"/>
<line x1="187.8" y1="469.1" x2="186.9" y2="469.1" stroke="#555" stroke-width="0.5"/>
<line x1="27.6" y1="476.82" x2="28.5" y2="476.82" stroke="#555" stroke-width="0.5"/>
<line x1="187.8" y1="476.82" x2="186.9" y2="476.82" stroke="#555" stroke-width="0.5"/>
<line x1="27.6" y1="484.54" x2="28.5" y2="484.54" stroke="#555" stroke-width="0.5"/>
<line x1="187.8" y1="484.54" x2="186.9" y2="484.54" stroke="#555" stroke-width="0.5"/>
<line x1="27.6" y1="492.26" x2="28.5" y2="492.26" stroke="#555" stroke-width="0.5"/>
<line x1="187.8" y1="492.26" x2="186.9" y2="492.26" stroke="#555" stroke-width="0.5"/>
<line x1="27.6" y1="499.98" x2="28.5" y2="499.98" stroke="#555" stroke-width="0.5"/>
<line x1="187.8" y1="499.98" x2="186.9" y2="499.98" stroke="#555" stroke-width="0.5"/>
<g clip-path="url(#ce)">
<polyline points="27.7,381.6 37.3,381.6 43,383.3 49.6,386.1 57.2,389 60,391.2 65.9,397.1 71.8,401.9 83.6,409 95.5,414.9 110,421.4 124.1,427.2 140,433.9 165.3,441.6 188,448.6" fill="none" stroke="#ff6a6a" stroke-width="0.95" stroke-linejoin="round"/>
<polyline points="27.7,381.6 32.6,381.7 36.4,383.8 40.2,387.1 44.9,394.2 54.4,398.9 60,402.5 67.1,406.6 69.5,409.6 74.2,411.9 77.7,413.7 83.6,416.1 89.6,418.4 95.5,422 101.4,426.1 102.1,426.8 103.3,432.1 106.8,433.3 116.3,435.1 119.8,437.5 123.4,441 124,448.1 128.1,449.3 139.9,452.2 151.8,455.7 163.6,459.3 169.6,462.8 175.5,464 188,467" fill="none" stroke="#6464ff" stroke-width="0.95" stroke-dasharray="3,1.8" stroke-linejoin="round"/>
<polyline points="27.7,381.6 29.8,381.6 34.5,387.6 40.2,398.9 48.7,419.7 54.1,430 95.3,501.3 98.3,502.3 98.3,508" fill="none" stroke="#ff70ff" stroke-width="0.95" stroke-dasharray="3.4,0.8,1,0.8" stroke-linejoin="round"/>
<polyline points="27.7,381.6 31.7,387.6 35.5,403.6 39.7,419.7 42.1,430 67.2,502.3 68.2,508" fill="none" stroke="#505050" stroke-width="0.95" stroke-linejoin="round"/>
<polyline points="30.7,381.6 43,383.8 50.6,387.6 52.5,391.3 56.3,392.3 60,394.2 65.9,398.3 69.5,400.7 70.6,403 71.8,407.2 74.2,411.3 76,414.9 80.1,417.8 86,420.8 90.7,422 92.5,425.5 96.6,426.5 98,434.5 102.1,436.9 108,438.6 110.4,441.6 116.3,444 118,447.5 125.7,451.1 126.9,453.4 132.8,455.8 138.7,457.6 145.9,462.8 151.8,465.2 157.7,468.1 161.3,469.3 164.8,471.7 173.1,473.5 188,476.3" fill="none" stroke="#ff3cf5" stroke-width="0.95" stroke-linejoin="round"/>
<polyline points="27.7,381.6 27.9,391.3 29.8,394.2 31.2,403.6 32.6,408.4 33.6,419.7 35.9,424.7 38.2,428.3 42.4,431.2 47.1,434.2 49.5,434.8 50.6,437.1 54.2,439.5 55.4,442.5 57.7,445.4 60.1,448.4 62.5,450.1 67.2,451.9 70.7,454.9 72,457.8 74.8,462.8 79.1,464.2 82.6,466.3 86.2,467.8 89.7,469.9 93.3,471.3 96.8,473.4 98.2,477.7 99.7,484.1 108.9,484.1 111.7,487.6 113.8,494 117.4,495.4 118.8,499.7 123.1,500.4 124.5,501.8 128.7,502.5 130.2,507.5 188,507.6" fill="none" stroke="#ff6262" stroke-width="0.9" stroke-dasharray="3,0.9,1,0.9" stroke-linejoin="round"/>
</g>
<text x="107.7" y="378.8" font-size="5.55" text-anchor="middle" fill="#000" font-family='"Liberation Sans", sans-serif' font-weight="normal" stroke="#000" stroke-width="0.12">Ackley with Dim=300</text>
<text x="107.7" y="521.8" font-size="5.5" text-anchor="middle" fill="#000" font-family='"Liberation Sans", sans-serif' font-weight="normal" stroke="#000" stroke-width="0.08">Iteration</text>
<text transform="translate(10.8,444.85) rotate(-90)" font-size="5.5" text-anchor="middle" fill="#000" font-family='"Liberation Sans", sans-serif'>Best score obtained so far</text>
<rect x="143.2" y="385.4" width="41.2" height="37.8" fill="#fff" stroke="#555" stroke-width="0.6"/>
<polyline points="145.2,389.1 159.3,389.1" fill="none" stroke="#ff6a6a" stroke-width="0.95" stroke-linejoin="round"/>
<text x="160.3" y="391.35" font-size="4.6" text-anchor="start" fill="#000" font-family='"Liberation Sans", sans-serif' font-weight="normal" stroke="#000" stroke-width="0.08">BOA</text>
<polyline points="145.2,395.24 159.3,395.24" fill="none" stroke="#6464ff" stroke-width="0.95" stroke-dasharray="3,1.8" stroke-linejoin="round"/>
<text x="160.3" y="397.49" font-size="4.6" text-anchor="start" fill="#000" font-family='"Liberation Sans", sans-serif' font-weight="normal" stroke="#000" stroke-width="0.08">CABOA</text>
<polyline points="145.2,401.38 159.3,401.38" fill="none" stroke="#ff70ff" stroke-width="0.95" stroke-dasharray="3.4,0.8,1,0.8" stroke-linejoin="round"/>
<text x="160.3" y="403.63" font-size="4.6" text-anchor="start" fill="#000" font-family='"Liberation Sans", sans-serif' font-weight="normal" stroke="#000" stroke-width="0.08">PSOBOA</text>
<polyline points="145.2,407.52 159.3,407.52" fill="none" stroke="#505050" stroke-width="0.95" stroke-linejoin="round"/>
<text x="160.3" y="409.77" font-size="4.6" text-anchor="start" fill="#000" font-family='"Liberation Sans", sans-serif' font-weight="normal" stroke="#000" stroke-width="0.08">HPSOBOA</text>
<polyline points="145.2,413.66 159.3,413.66" fill="none" stroke="#ff3cf5" stroke-width="0.95" stroke-linejoin="round"/>
<text x="160.3" y="415.91" font-size="4.6" text-anchor="start" fill="#000" font-family='"Liberation Sans", sans-serif' font-weight="normal" stroke="#000" stroke-width="0.08">LBOA</text>
<polyline points="145.2,419.8 159.3,419.8" fill="none" stroke="#ff6262" stroke-width="0.9" stroke-dasharray="3,0.9,1,0.9" stroke-linejoin="round"/>
<text x="160.3" y="422.05" font-size="4.6" text-anchor="start" fill="#000" font-family='"Liberation Sans", sans-serif' font-weight="normal" stroke="#000" stroke-width="0.08">IBOA</text>
<text x="104" y="543.5" font-size="10" text-anchor="middle" fill="#000" font-family='"Liberation Serif", serif' font-weight="bold" >(e)</text>
<clipPath id="cf"><rect x="247" y="379" width="165.7" height="130.5"/></clipPath>
<rect x="247.5" y="379.5" width="164.7" height="129.5" fill="#fff" stroke="#777" stroke-width="0.8"/>
<line x1="263.97" y1="509" x2="263.97" y2="507.4" stroke="#555" stroke-width="0.6"/>
<line x1="263.97" y1="379.5" x2="263.97" y2="381.1" stroke="#555" stroke-width="0.6"/>
<text x="263.97" y="517.4" font-size="5.2" text-anchor="middle" fill="#000" font-family='"Liberation Sans", sans-serif' font-weight="normal" >50</text>
<line x1="280.44" y1="509" x2="280.44" y2="507.4" stroke="#555" stroke-width="0.6"/>
<line x1="280.44" y1="379.5" x2="280.44" y2="381.1" stroke="#555" stroke-width="0.6"/>
<text x="280.44" y="517.4" font-size="5.2" text-anchor="middle" fill="#000" font-family='"Liberation Sans", sans-serif' font-weight="normal" >100</text>
<line x1="296.91" y1="509" x2="296.91" y2="507.4" stroke="#555" stroke-width="0.6"/>
<line x1="296.91" y1="379.5" x2="296.91" y2="381.1" stroke="#555" stroke-width="0.6"/>
<text x="296.91" y="517.4" font-size="5.2" text-anchor="middle" fill="#000" font-family='"Liberation Sans", sans-serif' font-weight="normal" >150</text>
<line x1="313.38" y1="509" x2="313.38" y2="507.4" stroke="#555" stroke-width="0.6"/>
<line x1="313.38" y1="379.5" x2="313.38" y2="381.1" stroke="#555" stroke-width="0.6"/>
<text x="313.38" y="517.4" font-size="5.2" text-anchor="middle" fill="#000" font-family='"Liberation Sans", sans-serif' font-weight="normal" >200</text>
<line x1="329.85" y1="509" x2="329.85" y2="507.4" stroke="#555" stroke-width="0.6"/>
<line x1="329.85" y1="379.5" x2="329.85" y2="381.1" stroke="#555" stroke-width="0.6"/>
<text x="329.85" y="517.4" font-size="5.2" text-anchor="middle" fill="#000" font-family='"Liberation Sans", sans-serif' font-weight="normal" >250</text>
<line x1="346.32" y1="509" x2="346.32" y2="507.4" stroke="#555" stroke-width="0.6"/>
<line x1="346.32" y1="379.5" x2="346.32" y2="381.1" stroke="#555" stroke-width="0.6"/>
<text x="346.32" y="517.4" font-size="5.2" text-anchor="middle" fill="#000" font-family='"Liberation Sans", sans-serif' font-weight="normal" >300</text>
<line x1="362.79" y1="509" x2="362.79" y2="507.4" stroke="#555" stroke-width="0.6"/>
<line x1="362.79" y1="379.5" x2="362.79" y2="381.1" stroke="#555" stroke-width="0.6"/>
<text x="362.79" y="517.4" font-size="5.2" text-anchor="middle" fill="#000" font-family='"Liberation Sans", sans-serif' font-weight="normal" >350</text>
<line x1="379.26" y1="509" x2="379.26" y2="507.4" stroke="#555" stroke-width="0.6"/>
<line x1="379.26" y1="379.5" x2="379.26" y2="381.1" stroke="#555" stroke-width="0.6"/>
<text x="379.26" y="517.4" font-size="5.2" text-anchor="middle" fill="#000" font-family='"Liberation Sans", sans-serif' font-weight="normal" >400</text>
<line x1="395.73" y1="509" x2="395.73" y2="507.4" stroke="#555" stroke-width="0.6"/>
<line x1="395.73" y1="379.5" x2="395.73" y2="381.1" stroke="#555" stroke-width="0.6"/>
<text x="395.73" y="517.4" font-size="5.2" text-anchor="middle" fill="#000" font-family='"Liberation Sans", sans-serif' font-weight="normal" >450</text>
<line x1="412.2" y1="509" x2="412.2" y2="507.4" stroke="#555" stroke-width="0.6"/>
<line x1="412.2" y1="379.5" x2="412.2" y2="381.1" stroke="#555" stroke-width="0.6"/>
<text x="412.2" y="517.4" font-size="5.2" text-anchor="middle" fill="#000" font-family='"Liberation Sans", sans-serif' font-weight="normal" >500</text>
<line x1="247.5" y1="384.2" x2="249.1" y2="384.2" stroke="#555" stroke-width="0.6"/>
<line x1="412.2" y1="384.2" x2="410.6" y2="384.2" stroke="#555" stroke-width="0.6"/>
<text x="245.4" y="386.9" font-size="4.9" text-anchor="end" fill="#000" font-family='"Liberation Sans", sans-serif'>10<tspan font-size="4.3" dy="-2.2">0</tspan></text>
<line x1="247.5" y1="419.6" x2="249.1" y2="419.6" stroke="#555" stroke-width="0.6"/>
<line x1="412.2" y1="419.6" x2="410.6" y2="419.6" stroke="#555" stroke-width="0.6"/>
<text x="245.4" y="422.3" font-size="4.9" text-anchor="end" fill="#000" font-family='"Liberation Sans", sans-serif'>10<tspan font-size="4.3" dy="-2.2">-20</tspan></text>
<line x1="247.5" y1="455" x2="249.1" y2="455" stroke="#555" stroke-width="0.6"/>
<line x1="412.2" y1="455" x2="410.6" y2="455" stroke="#555" stroke-width="0.6"/>
<text x="245.4" y="457.7" font-size="4.9" text-anchor="end" fill="#000" font-family='"Liberation Sans", sans-serif'>10<tspan font-size="4.3" dy="-2.2">-40</tspan></text>
<line x1="247.5" y1="490.4" x2="249.1" y2="490.4" stroke="#555" stroke-width="0.6"/>
<line x1="412.2" y1="490.4" x2="410.6" y2="490.4" stroke="#555" stroke-width="0.6"/>
<text x="245.4" y="493.1" font-size="4.9" text-anchor="end" fill="#000" font-family='"Liberation Sans", sans-serif'>10<tspan font-size="4.3" dy="-2.2">-60</tspan></text>
<line x1="247.5" y1="384.2" x2="248.4" y2="384.2" stroke="#555" stroke-width="0.5"/>
<line x1="412.2" y1="384.2" x2="411.3" y2="384.2" stroke="#555" stroke-width="0.5"/>
<line x1="247.5" y1="393.05" x2="248.4" y2="393.05" stroke="#555" stroke-width="0.5"/>
<line x1="412.2" y1="393.05" x2="411.3" y2="393.05" stroke="#555" stroke-width="0.5"/>
<line x1="247.5" y1="401.9" x2="248.4" y2="401.9" stroke="#555" stroke-width="0.5"/>
<line x1="412.2" y1="401.9" x2="411.3" y2="401.9" stroke="#555" stroke-width="0.5"/>
<line x1="247.5" y1="410.75" x2="248.4" y2="410.75" stroke="#555" stroke-width="0.5"/>
<line x1="412.2" y1="410.75" x2="411.3" y2="410.75" stroke="#555" stroke-width="0.5"/>
<line x1="247.5" y1="419.6" x2="248.4" y2="419.6" stroke="#555" stroke-width="0.5"/>
<line x1="412.2" y1="419.6" x2="411.3" y2="419.6" stroke="#555" stroke-width="0.5"/>
<line x1="247.5" y1="428.45" x2="248.4" y2="428.45" stroke="#555" stroke-width="0.5"/>
<line x1="412.2" y1="428.45" x2="411.3" y2="428.45" stroke="#555" stroke-width="0.5"/>
<line x1="247.5" y1="437.3" x2="248.4" y2="437.3" stroke="#555" stroke-width="0.5"/>
<line x1="412.2" y1="437.3" x2="411.3" y2="437.3" stroke="#555" stroke-width="0.5"/>
<line x1="247.5" y1="446.15" x2="248.4" y2="446.15" stroke="#555" stroke-width="0.5"/>
<line x1="412.2" y1="446.15" x2="411.3" y2="446.15" stroke="#555" stroke-width="0.5"/>
<line x1="247.5" y1="455" x2="248.4" y2="455" stroke="#555" stroke-width="0.5"/>
<line x1="412.2" y1="455" x2="411.3" y2="455" stroke="#555" stroke-width="0.5"/>
<line x1="247.5" y1="463.85" x2="248.4" y2="463.85" stroke="#555" stroke-width="0.5"/>
<line x1="412.2" y1="463.85" x2="411.3" y2="463.85" stroke="#555" stroke-width="0.5"/>
<line x1="247.5" y1="472.7" x2="248.4" y2="472.7" stroke="#555" stroke-width="0.5"/>
<line x1="412.2" y1="472.7" x2="411.3" y2="472.7" stroke="#555" stroke-width="0.5"/>
<line x1="247.5" y1="481.55" x2="248.4" y2="481.55" stroke="#555" stroke-width="0.5"/>
<line x1="412.2" y1="481.55" x2="411.3" y2="481.55" stroke="#555" stroke-width="0.5"/>
<line x1="247.5" y1="490.4" x2="248.4" y2="490.4" stroke="#555" stroke-width="0.5"/>
<line x1="412.2" y1="490.4" x2="411.3" y2="490.4" stroke="#555" stroke-width="0.5"/>
<line x1="247.5" y1="499.25" x2="248.4" y2="499.25" stroke="#555" stroke-width="0.5"/>
<line x1="412.2" y1="499.25" x2="411.3" y2="499.25" stroke="#555" stroke-width="0.5"/>
<line x1="247.5" y1="508.1" x2="248.4" y2="508.1" stroke="#555" stroke-width="0.5"/>
<line x1="412.2" y1="508.1" x2="411.3" y2="508.1" stroke="#555" stroke-width="0.5"/>
<g clip-path="url(#cf)">
<polyline points="247.5,379.6 265.9,380.2 276,382 295,384.4 335,391.8 370,396.5 385,398.7 412.2,401.3" fill="none" stroke="#ff6a6a" stroke-width="0.95" stroke-linejoin="round"/>
<polyline points="247.5,379.6 250.3,380.5 253.1,381.6 256.6,384.1 259.5,385.9 267.3,386.6 276,387.5 295,389.8 313.6,392.5 325.5,394.9 350.4,397.5 364.6,398.7 385,399.9 412.2,403" fill="none" stroke="#6464ff" stroke-width="0.95" stroke-dasharray="3,1.8" stroke-linejoin="round"/>
<polyline points="247.5,379.6 253.1,380.2 263.7,382 276,384.1 290,387 301.8,393.2 319.6,399 335,403.6 349.2,408.4 364.6,411.9 370.5,414.3 393.6,420.8 412.2,427.3" fill="none" stroke="#ff70ff" stroke-width="0.95" stroke-dasharray="3.4,0.8,1,0.8" stroke-linejoin="round"/>
<polyline points="247.5,379.6 248.1,382 251.7,386.2 255.2,389.4 258.8,391.5 263,394.4 268.6,399 274.6,403.8 280,408.3 284.7,413 291.8,417.7 297.7,421.9 303.6,426.6 313.1,433.7 320.2,437.8 324.9,440.2 330.9,444.5 336.8,449.2 343.9,455.1 348.6,458 355.7,463.4 361.6,469.3 367.6,474 373.9,478.3 381,483.6 385.7,487.7 391.6,493 397.6,497.8 403.5,502.5 412.2,509" fill="none" stroke="#505050" stroke-width="0.95" stroke-linejoin="round"/>
<polyline points="247.5,379.6 260.2,380.2 276,382.7 295,385.9 335,394.8 364.6,399.5 372.8,400.7 378.5,404.2 385,405.4 412.2,407" fill="none" stroke="#ff3cf5" stroke-width="0.95" stroke-linejoin="round"/>
<polyline points="247.5,379.6 248.1,382 251.7,386.2 255.2,389.4 258.8,391.5 263,394.4 267.3,394.6 276,396.1 286.4,399 295.9,400.8 299.5,402.6 313.6,403.8 323.1,405 331.4,406.7 352.7,409.6 370.5,412.5 393.6,415.5 405.5,417.2 412.2,418.4" fill="none" stroke="#ff6262" stroke-width="0.9" stroke-dasharray="3,0.9,1,0.9" stroke-linejoin="round"/>
</g>
<text x="329.85" y="376.7" font-size="5.55" text-anchor="middle" fill="#000" font-family='"Liberation Sans", sans-serif' font-weight="normal" stroke="#000" stroke-width="0.12">Alpine with Dim=300</text>
<text x="329.85" y="523.9" font-size="5.5" text-anchor="middle" fill="#000" font-family='"Liberation Sans", sans-serif' font-weight="normal" stroke="#000" stroke-width="0.08">Iteration</text>
<text transform="translate(230.9,444.9) rotate(-90)" font-size="5.5" text-anchor="middle" fill="#000" font-family='"Liberation Sans", sans-serif'>Best score obtained so far</text>
<rect x="250.5" y="467.2" width="43.1" height="39" fill="#fff" stroke="#555" stroke-width="0.6"/>
<polyline points="252.5,470.7 267.5,470.7" fill="none" stroke="#ff6a6a" stroke-width="0.95" stroke-linejoin="round"/>
<text x="269" y="472.95" font-size="4.6" text-anchor="start" fill="#000" font-family='"Liberation Sans", sans-serif' font-weight="normal" stroke="#000" stroke-width="0.08">BOA</text>
<polyline points="252.5,477 267.5,477" fill="none" stroke="#6464ff" stroke-width="0.95" stroke-dasharray="3,1.8" stroke-linejoin="round"/>
<text x="269" y="479.25" font-size="4.6" text-anchor="start" fill="#000" font-family='"Liberation Sans", sans-serif' font-weight="normal" stroke="#000" stroke-width="0.08">CABOA</text>
<polyline points="252.5,483.3 267.5,483.3" fill="none" stroke="#ff70ff" stroke-width="0.95" stroke-dasharray="3.4,0.8,1,0.8" stroke-linejoin="round"/>
<text x="269" y="485.55" font-size="4.6" text-anchor="start" fill="#000" font-family='"Liberation Sans", sans-serif' font-weight="normal" stroke="#000" stroke-width="0.08">PSOBOA</text>
<polyline points="252.5,489.6 267.5,489.6" fill="none" stroke="#505050" stroke-width="0.95" stroke-linejoin="round"/>
<text x="269" y="491.85" font-size="4.6" text-anchor="start" fill="#000" font-family='"Liberation Sans", sans-serif' font-weight="normal" stroke="#000" stroke-width="0.08">HPSOBOA</text>
<polyline points="252.5,495.9 267.5,495.9" fill="none" stroke="#ff3cf5" stroke-width="0.95" stroke-linejoin="round"/>
<text x="269" y="498.15" font-size="4.6" text-anchor="start" fill="#000" font-family='"Liberation Sans", sans-serif' font-weight="normal" stroke="#000" stroke-width="0.08">LBOA</text>
<polyline points="252.5,502.2 267.5,502.2" fill="none" stroke="#ff6262" stroke-width="0.9" stroke-dasharray="3,0.9,1,0.9" stroke-linejoin="round"/>
<text x="269" y="504.45" font-size="4.6" text-anchor="start" fill="#000" font-family='"Liberation Sans", sans-serif' font-weight="normal" stroke="#000" stroke-width="0.08">IBOA</text>
<text x="325.8" y="543.6" font-size="10" text-anchor="middle" fill="#000" font-family='"Liberation Serif", serif' font-weight="bold" >(f)</text>
</svg></body></html>
